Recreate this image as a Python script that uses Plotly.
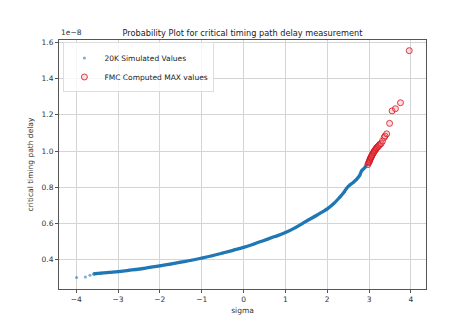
import plotly.graph_objects as go

# Simulated values, delay in units of 1e-8
sim_sigma = [-3.99, -3.78, -3.67, -3.59, -3.4, -3.2, -3.0, -2.75, -2.5, -2.25, -2.0,
             -1.75, -1.5, -1.25, -1.0, -0.75, -0.5, -0.25, 0.0, 0.25, 0.5, 0.75,
             1.0, 1.25, 1.5, 1.75, 2.0, 2.15, 2.3, 2.4, 2.46, 2.54, 2.62, 2.70,
             2.78, 2.82, 2.90, 2.95]
sim_delay = [0.301, 0.303, 0.313, 0.320, 0.325, 0.329, 0.333, 0.340, 0.347, 0.356, 0.365,
             0.375, 0.386, 0.396, 0.408, 0.421, 0.436, 0.451, 0.467, 0.486, 0.507, 0.527,
             0.549, 0.578, 0.612, 0.645, 0.680, 0.708, 0.745, 0.772, 0.793, 0.812, 0.826, 0.843,
             0.867, 0.890, 0.909, 0.927]

# FMC computed MAX values
fmc_sigma = [2.97, 2.99, 3.00, 3.01, 3.02, 3.03, 3.04, 3.05, 3.06, 3.07, 3.08, 3.10,
             3.11, 3.12, 3.14, 3.15, 3.17, 3.18, 3.20, 3.22, 3.24, 3.26, 3.29, 3.32,
             3.36, 3.38, 3.42, 3.49, 3.55, 3.63, 3.75, 3.96]
fmc_delay = [0.925, 0.935, 0.940, 0.945, 0.952, 0.958, 0.962, 0.967, 0.972, 0.977, 0.982, 0.988,
             0.993, 0.998, 1.003, 1.008, 1.013, 1.018, 1.022, 1.027, 1.032, 1.038, 1.042, 1.055,
             1.075, 1.083, 1.095, 1.153, 1.222, 1.234, 1.267, 1.555]

x_ticks = [-4, -3, -2, -1, 0, 1, 2, 3, 4]
y_ticks = [0.4, 0.6, 0.8, 1.0, 1.2, 1.4, 1.6]

blue = "#1f77b4"
font = "DejaVu Sans"

fig = go.Figure()
fig.add_trace(go.Scatter(
    x=sim_sigma[3:], y=sim_delay[3:], mode="lines",
    line=dict(color=blue, width=3.3, shape="spline"),
    showlegend=False, hoverinfo="skip"))
fig.add_trace(go.Scatter(
    x=sim_sigma, y=sim_delay, mode="markers", name="20K Simulated Values",
    marker=dict(color="rgba(31,119,180,0.6)", size=3)))
fig.add_trace(go.Scatter(
    x=fmc_sigma, y=fmc_delay, mode="markers", name="FMC Computed MAX values",
    marker=dict(symbol="circle", size=6, color="rgba(255,120,130,0.25)",
                line=dict(color="rgba(210,20,30,0.8)", width=1))))

axis_common = dict(showgrid=True, gridcolor="#d4d4d4", gridwidth=1,
                   showline=True, linecolor="#555", linewidth=1, mirror=True,
                   ticks="outside", ticklen=3, tickcolor="#555",
                   tickfont=dict(family=font, size=7.5, color="#333"),
                   zeroline=False)

fig.update_layout(
    width=474, height=325,
    margin=dict(l=59, r=48, t=40, b=36),
    paper_bgcolor="white", plot_bgcolor="white",
    title=dict(text="Probability Plot for critical timing path delay measurement",
               x=0.5, xanchor="center", xref="paper", y=1, yref="paper",
               yanchor="bottom", pad=dict(b=4),
               font=dict(family=font, size=8.2, color="#222")),
    xaxis=dict(range=[-4.41, 4.36], tickvals=x_ticks,
               ticktext=["\u2212" + str(-t) if t < 0 else str(t) for t in x_ticks],
               title=dict(text="sigma", font=dict(family=font, size=7.5, color="#333"), standoff=4),
               **axis_common),
    yaxis=dict(range=[0.237, 1.614], tickvals=y_ticks,
               ticktext=["%.1f" % t for t in y_ticks],
               title=dict(text="critical timing path delay", font=dict(family=font, size=7.5, color="#333"), standoff=6),
               **axis_common),
    legend=dict(x=0.012, y=0.99, xanchor="left", yanchor="top",
                bgcolor="rgba(255,255,255,0.8)", bordercolor="#ddd", borderwidth=1,
                font=dict(family=font, size=7.5, color="#222"),
                itemsizing="trace", itemwidth=30, tracegroupgap=0),
    annotations=[dict(text="1e\u22128", x=0, y=1, xref="paper", yref="paper",
                      xanchor="left", yanchor="bottom", showarrow=False,
                      font=dict(family=font, size=7.5, color="#333"), yshift=1)],
)

fig.write_html("out.html")
